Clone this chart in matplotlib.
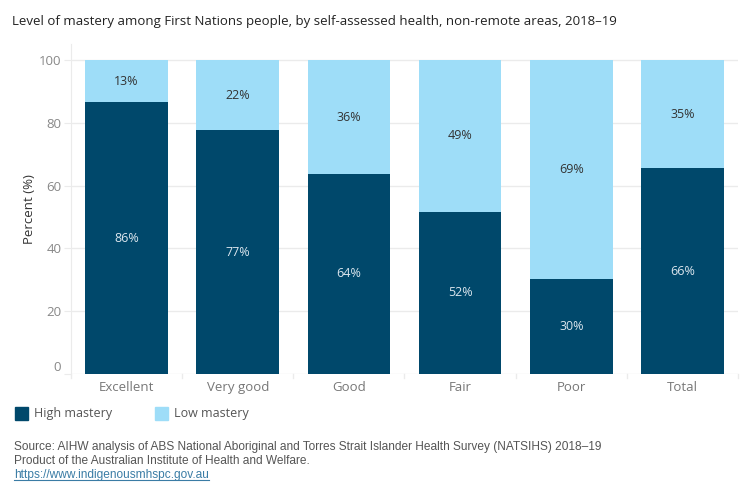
import matplotlib
matplotlib.use("Agg")
import matplotlib.pyplot as plt
from matplotlib.patches import Rectangle

categories = ["Excellent", "Very good", "Good", "Fair", "Poor", "Total"]
high = [86.6, 77.6, 63.7, 51.6, 30.4, 65.6]
low = [13.4, 22.4, 36.3, 48.4, 69.6, 34.4]
high_labels = ["86%", "77%", "64%", "52%", "30%", "66%"]
low_labels = ["13%", "22%", "36%", "49%", "69%", "35%"]
yticks = [0, 20, 40, 60, 80, 100]

DARK = "#00486B"
LIGHT = "#9EDDF8"
GRID = "#EBEBEB"

plt.rcParams['font.family'] = ['Open Sans', 'DejaVu Sans']

fig = plt.figure(figsize=(7.5, 5), dpi=100)
ax = fig.add_axes([71/750, 1-374/500, 667/750, 330/500])

x = list(range(len(categories)))
ax.bar(x, high, width=0.745, color=DARK, zorder=2)
ax.bar(x, low, bottom=high, width=0.745, color=LIGHT, zorder=2)

for i in x:
    ax.text(i, high[i]/2, high_labels[i], ha='center', va='center',
            color="#DCE6EE", fontsize=9, zorder=3)
    ax.text(i, high[i] + low[i]/2, low_labels[i], ha='center', va='center',
            color="#333333", fontsize=9, zorder=3)

ax.set_xlim(-0.5, len(categories) - 0.5)
ax.set_ylim(0, 105.1)
ax.set_yticks(yticks)
ax.set_yticklabels([str(t) for t in yticks])
for t in yticks:
    ax.axhline(t, color=GRID, lw=1, zorder=1)
ax.tick_params(axis='y', length=5, color=GRID, labelcolor="#888888", labelsize=9.5, pad=2)
ax.get_yticklabels()[0].set_va('bottom')

ax.set_xticks(x)
ax.set_xticklabels(categories)
ax.tick_params(axis='x', length=0, labelcolor="#777777", labelsize=9.5, pad=5)
for b in [i - 0.5 for i in range(len(categories) + 1)]:
    ax.plot([b, b], [0, -1.3], color=GRID, lw=1, clip_on=False, zorder=1)

for s in ['top', 'right', 'bottom']:
    ax.spines[s].set_visible(False)
ax.spines['left'].set_color(GRID)
ax.set_ylabel("Percent (%)", fontsize=9.5, color="#333333", labelpad=2)

fig.text(12/750, 1-22/500, "Level of mastery among First Nations people, by self-assessed health, non-remote areas, 2018\u201319",
         fontsize=9.5, color="#222222", va='center', ha='left')

# legend
fig.patches.append(Rectangle((15/750, 1-420/500), 13/750, 13/500, transform=fig.transFigure,
                             color=DARK, figure=fig))
fig.text(34/750, 1-413/500, "High mastery", fontsize=9, color="#555555", va='center')
fig.patches.append(Rectangle((155/750, 1-420/500), 13/750, 13/500, transform=fig.transFigure,
                             color=LIGHT, figure=fig))
fig.text(174/750, 1-413/500, "Low mastery", fontsize=9, color="#555555", va='center')

src_font = dict(family='Liberation Sans', fontsize=8.6, color="#555555", va='center')
fig.text(14/750, 1-447/500, "Source: AIHW analysis of ABS National Aboriginal and Torres Strait Islander Health Survey (NATSIHS) 2018\u201319", **src_font)
fig.text(14/750, 1-461/500, "Product of the Australian Institute of Health and Welfare.", **src_font)
link = fig.text(14/750, 1-475/500, "https://www.indigenousmhspc.gov.au", family='Liberation Sans',
                fontsize=8.6, color="#3A7CA5", va='center')
fig.canvas.draw()
bb = link.get_window_extent()
fig.add_artist(plt.Line2D([bb.x0/750, bb.x1/750], [(bb.y0 + 1)/500, (bb.y0 + 1)/500],
                          transform=fig.transFigure, color="#3A7CA5", lw=0.8))

fig.savefig("out.png", dpi=100)
